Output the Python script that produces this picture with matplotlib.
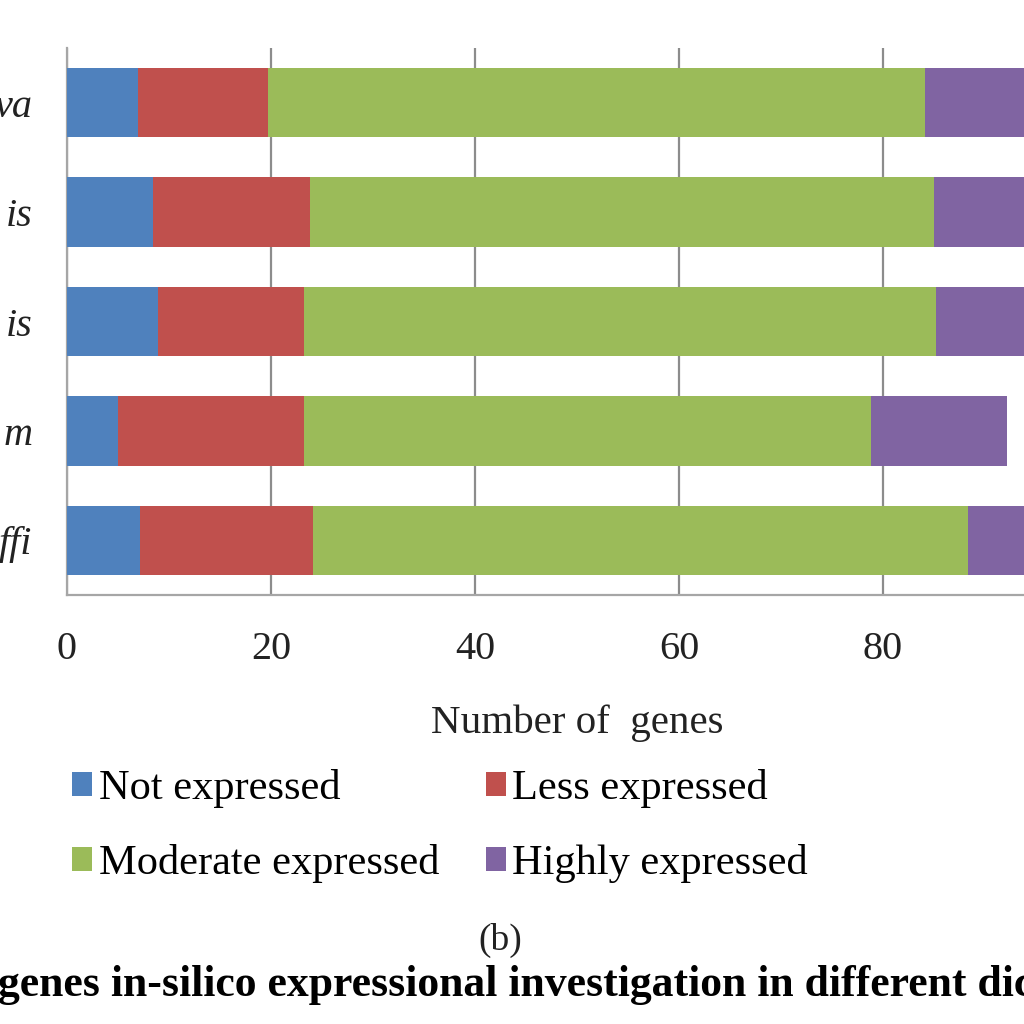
import matplotlib
matplotlib.use("Agg")
import matplotlib.pyplot as plt
from matplotlib.patches import Patch

categories = ["va", "is", "is", "m", "ffi"]
not_expressed = [7.0, 8.4, 8.9, 5.0, 7.2]
less_expressed = [12.7, 15.4, 14.3, 18.2, 16.9]
moderate_expressed = [64.4, 61.2, 62.0, 55.6, 64.2]
highly_expressed = [15.9, 15.0, 14.8, 13.4, 11.7]
series_names = ["Not expressed", "Less expressed", "Moderate expressed", "Highly expressed"]
colors = ["#4F81BD", "#C0504D", "#9BBB59", "#8064A2"]
xticks = [0, 20, 40, 60, 80]

plt.rcParams['font.family'] = ['Liberation Serif', 'DejaVu Serif']

fig = plt.figure(figsize=(10.24, 10.24), dpi=100)
ax = fig.add_axes([67/1024, 1-595/1024, 1020/1024, (595-48)/1024])

ypos = list(range(len(categories)))
left = [0.0]*len(categories)
for vals, col, name in zip([not_expressed, less_expressed, moderate_expressed, highly_expressed], colors, series_names):
    ax.barh(ypos, vals, left=left, height=0.635, color=col, label=name, zorder=3)
    left = [l+v for l, v in zip(left, vals)]

ax.set_ylim(4.5, -0.5)
ax.set_xlim(0, 100)
ax.set_xticks(xticks)
ax.set_xticklabels([str(t) for t in xticks])
ax.set_yticks(ypos)
ax.set_yticklabels(categories, style='italic')
ax.tick_params(axis='both', length=0, labelsize=29, colors='#222222')
ax.tick_params(axis='x', pad=26)
ax.tick_params(axis='y', pad=25)
ax.xaxis.grid(True, color='#8c8c8c', lw=1.6, zorder=0)
ax.set_axisbelow(True)
for s in ['top', 'right']:
    ax.spines[s].set_visible(False)
for s in ['left', 'bottom']:
    ax.spines[s].set_color('#a6a6a6')
    ax.spines[s].set_linewidth(1.6)

ax.set_xlabel("Number of  genes", fontsize=29.5, labelpad=26, color='#222222')

handles = [Patch(facecolor=c, edgecolor='none') for c in colors]
order = [0, 2, 1, 3]
fig.legend([handles[i] for i in order], [series_names[i] for i in order], ncol=2, loc='upper left',
           bbox_to_anchor=(72/1024, 1-769/1024),
           frameon=False, fontsize=30.5, handlelength=0.48, handleheight=0.52, handletextpad=0.15,
           columnspacing=1.1, labelspacing=0.85, borderpad=0, borderaxespad=0)

fig.text(500/1024, 1-940/1024, "(b)", ha='center', va='center', fontsize=27, color='#222222')
fig.text(-2/1024, 1-985/1024, "genes in-silico expressional investigation in different dicot plants",
         ha='left', va='center', fontsize=31.5, fontweight='bold', color='black')

fig.savefig("out.png", dpi=100)
